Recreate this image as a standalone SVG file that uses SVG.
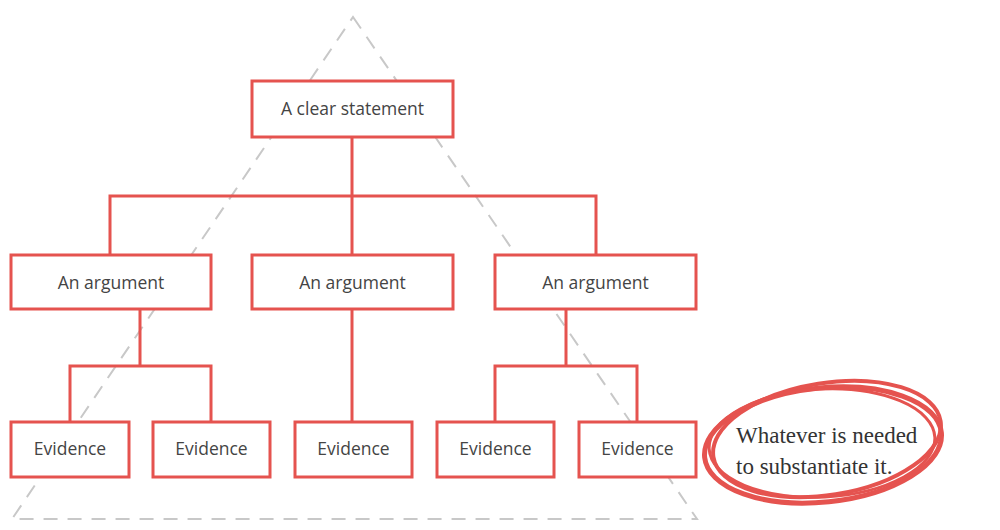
<svg xmlns="http://www.w3.org/2000/svg" width="1000" height="530" viewBox="0 0 1000 530">
<style>
.box{fill:#fff;stroke:#e5534f;stroke-width:3}
.con{fill:none;stroke:#e5534f;stroke-width:3}
.lbl{font-family:"Open Sans","Liberation Sans",sans-serif;font-size:17.5px;fill:#444;text-anchor:middle}
.note{font-family:"Liberation Serif",serif;font-size:23px;fill:#333}
.ring{fill:none;stroke:#e5534f}
</style>
<rect width="1000" height="530" fill="#fff"/>
<g id="triangle">
<polygon points="353,17 697,519 12,519" fill="none" stroke="#c8c8c8" stroke-width="2" stroke-dasharray="14,10"/>
</g>
<g id="connectors">
<path class="con" d="M352,137 V196 M110,255 V196 H596 V255 M352,196 V255"/>
<path class="con" d="M140,309 V366 M70,422 V366 H211 V422"/>
<path class="con" d="M352,309 V422"/>
<path class="con" d="M566,309 V366 M495,422 V366 H637 V422"/>
</g>
<g id="n-statement"><rect class="box" x="252" y="81" width="201" height="56"/><text class="lbl" x="352.5" y="115">A clear statement</text></g>
<g id="n-arg1"><rect class="box" x="11" y="255" width="200" height="54"/><text class="lbl" x="111" y="289">An argument</text></g>
<g id="n-arg2"><rect class="box" x="252" y="255" width="201" height="54"/><text class="lbl" x="352.5" y="289">An argument</text></g>
<g id="n-arg3"><rect class="box" x="495" y="255" width="201" height="54"/><text class="lbl" x="595.5" y="289">An argument</text></g>
<g id="n-ev1"><rect class="box" x="11" y="422" width="118" height="55"/><text class="lbl" x="70" y="455">Evidence</text></g>
<g id="n-ev2"><rect class="box" x="153" y="422" width="117" height="55"/><text class="lbl" x="211.5" y="455">Evidence</text></g>
<g id="n-ev3"><rect class="box" x="295" y="422" width="117" height="55"/><text class="lbl" x="353.5" y="455">Evidence</text></g>
<g id="n-ev4"><rect class="box" x="437" y="422" width="117" height="55"/><text class="lbl" x="495.5" y="455">Evidence</text></g>
<g id="n-ev5"><rect class="box" x="579" y="422" width="117" height="55"/><text class="lbl" x="637.5" y="455">Evidence</text></g>
<g id="annotation">
<ellipse class="ring" cx="823" cy="445" rx="119" ry="57" transform="rotate(-6 823 445)" stroke-width="5"/>
<ellipse class="ring" cx="827" cy="439" rx="115" ry="56" transform="rotate(-9 827 439)" stroke-width="4"/>
<ellipse class="ring" cx="822" cy="443" rx="113" ry="54" transform="rotate(-3 822 443)" stroke-width="3"/>
<text class="note" x="736" y="443">Whatever is needed</text>
<text class="note" x="736" y="474">to substantiate it.</text>
</g>
</svg>
